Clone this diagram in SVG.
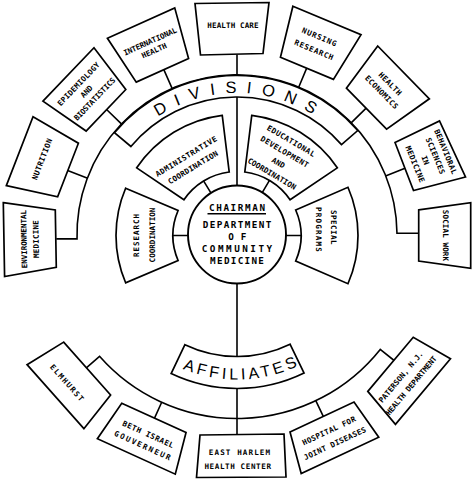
<svg xmlns="http://www.w3.org/2000/svg" width="474" height="482" viewBox="0 0 474 482">
<style>
.box{fill:#fff;stroke:#000;stroke-width:1.7;stroke-linejoin:miter}
.ln{fill:none;stroke:#000;stroke-width:1.6}
.t{font-family:"DejaVu Sans Mono","Liberation Mono",monospace;font-weight:bold;font-size:7.6px;text-anchor:middle;fill:#000}
.c{font-family:"DejaVu Sans Mono","Liberation Mono",monospace;font-weight:bold;font-size:9.3px;text-anchor:middle;fill:#000}
.big{font-family:"Liberation Sans",Arial,sans-serif;fill:#000}
</style>
<defs>
<path id="divArc" d="M113.59,164.25 A142.5,142.5 0 0 1 360.41,164.25"/>
<path id="affArc" d="M154.4,353.46 A144,144 0 0 0 319.6,353.46"/>
</defs>
<rect width="474" height="482" fill="#fff"/>

<g id="connectors">
<path class="ln" d="M237,54.5 V435"/>
<path class="ln" d="M56.3,238.85 H77.04 A160,160 0 1 1 396.98,233.27 H418.7"/>
<path class="ln" d="M87.63,178.16 L65.69,169.74 M121.91,124.35 L105,108.03 M172.43,89.11 L162.95,67.6 M298.49,87.79 L307.52,66.09 M350.92,123.16 L367.66,106.66 M385.56,176.08 L405,168.3"/>
<path class="ln" d="M188.5,235.5 H173 M285.5,235.5 H301 M211.66,194.15 L203.56,180.93 M261.62,193.71 L269.48,180.36"/>
<path class="ln" d="M83.74,370.14 L99.52,356.28 A183,183 0 0 0 380.22,349.42 L396.65,362.5"/>
<path class="ln" d="M161.69,402.29 L153.05,421.43 M315.78,400.67 L324.82,419.63"/>
</g>

<g id="divisions">
<path class="box" d="M114.43,132.65 A160,160 0 0 1 357.75,130.53 L341.53,144.64 A138.5,138.5 0 0 0 130.9,146.47 Z"/>
<text class="big" font-size="16.5" letter-spacing="9.95"><textPath href="#divArc" startOffset="51%" text-anchor="middle">DIVISIONS</textPath></text>
</g>

<g id="affiliates">
<path class="box" d="M184.91,344.71 A121,121 0 0 0 290.04,344.25 L304.07,373.02 A153,153 0 0 1 171.13,373.6 Z"/>
<text class="big" font-size="16" letter-spacing="3.3"><textPath href="#affArc" startOffset="52.9%" text-anchor="middle">AFFILIATES</textPath></text>
</g>

<g id="chairman">
<circle cx="237" cy="234.5" r="49" fill="#fff" stroke="#000" stroke-width="1.9"/>
<text class="c" x="237.8" y="211.4" letter-spacing="1.6">CHAIRMAN</text>
<path class="ln" d="M207.5,213.8 H266" stroke-width="1.3"/>
<text class="c" x="237.7" y="228" letter-spacing="1.4">DEPARTMENT</text>
<text class="c" x="240.8" y="239.5" letter-spacing="7">OF</text>
<text class="c" x="238.2" y="252.4" letter-spacing="2.5">COMMUNITY</text>
<text class="c" x="237.7" y="264" letter-spacing="1.3">MEDICINE</text>
</g>

<g id="research-coordination">
<path class="box" d="M125.62,188.22 L178.09,210.49 A64,64 0 0 0 178.09,260.51 L125.62,282.78 A121,121 0 0 1 125.62,188.22 Z"/>
<g transform="translate(144.2,235) rotate(-90)">
<text class="t" y="-5.65" letter-spacing="0.9">RESEARCH</text>
<text class="t" y="11.15">COORDINATION</text>
</g>
</g>

<g id="special-programs">
<path class="box" d="M295.69,209.98 L347.96,187.25 A121,121 0 0 1 347.96,283.75 L295.69,261.02 A64,64 0 0 0 295.69,209.98 Z"/>
<g transform="translate(326.5,229) rotate(90)">
<text class="t" x="-1.5" y="-4.75" letter-spacing="0.4">SPECIAL</text>
<text class="t" x="1" y="10.25" letter-spacing="1.2">PROGRAMS</text>
</g>
</g>

<g id="administrative-coordination">
<path class="box" d="M136.69,167.84 A121,121 0 0 1 222.25,115.4 L229.2,171.98 A64,64 0 0 0 183.94,199.71 Z"/>
<g transform="translate(189.6,161.6) rotate(-31.5)">
<text class="t" y="-3.6" letter-spacing="0.5">ADMINISTRATIVE</text>
<text class="t" y="9.4" letter-spacing="0.2">COORDINATION</text>
</g>
</g>

<g id="educational-development">
<path class="box" d="M251.75,115.4 A121,121 0 0 1 337.31,167.84 L290.06,199.71 A64,64 0 0 0 244.8,171.98 Z"/>
<g transform="translate(281.5,157.5) rotate(30.5)">
<text class="t" y="-16.5" letter-spacing="0.4">EDUCATIONAL</text>
<text class="t" y="-3.8" letter-spacing="0.4">DEVELOPMENT</text>
<text class="t" y="8.9">AND</text>
<text class="t" y="21.6">COORDINATION</text>
</g>
</g>

<g id="environmental-medicine">
<polygon class="box" points="3.3,202.66 55.29,209.96 56.29,267.36 4.59,276.48"/>
<g transform="translate(29.9,239.1) rotate(-91)">
<text class="t" y="-3.25" letter-spacing="-0.1">ENVIRONMENTAL</text>
<text class="t" y="8.75" letter-spacing="0.2">MEDICINE</text>
</g>
</g>

<g id="nutrition">
<polygon class="box" points="6.33,185.63 33.03,116.79 78.41,143.2 57.64,196.72"/>
<g transform="translate(42,159) rotate(-68.8)">
<text class="t" y="2.75" letter-spacing="0.3">NUTRITION</text>
</g>
</g>

<g id="epidemiology">
<polygon class="box" points="42.97,101.15 93.99,47.77 125.8,89.53 86.14,131.04"/>
<g transform="translate(86.5,91.5) rotate(-46.3)">
<text class="t" y="-8.25" letter-spacing="0.2">EPIDEMIOLOGY</text>
<text class="t" y="2.75">AND</text>
<text class="t" y="13.75" letter-spacing="-0.3">BIOSTATISTICS</text>
</g>
</g>

<g id="international-health">
<polygon class="box" points="107.43,38.25 174.73,7.86 188.58,58.5 136.25,82.13"/>
<g transform="translate(152,46) rotate(-24.3)">
<text class="t" y="-2.25" letter-spacing="-0.15">INTERNATIONAL</text>
<text class="t" y="7.75" letter-spacing="-0.15">HEALTH</text>
</g>
</g>

<g id="health-care">
<polygon class="box" points="195,3.5 269,2.5 263,53.5 200.5,55"/>
<text class="t" x="233" y="27.75" letter-spacing="0.1">HEALTH CARE</text>
</g>

<g id="nursing-research">
<polygon class="box" points="292.89,6.21 361.01,34.71 333.42,79.38 280.46,57.22"/>
<g transform="translate(317,43.5) rotate(22.7)">
<text class="t" y="-4.25" letter-spacing="0.8">NURSING</text>
<text class="t" y="9.75" letter-spacing="0.7">RESEARCH</text>
</g>
</g>

<g id="health-economics">
<polygon class="box" points="377.71,46.03 429.37,98.79 386.58,129.2 346.41,88.18"/>
<g transform="translate(386,88) rotate(45.6)">
<text class="t" y="-3.25" letter-spacing="0.3">HEALTH</text>
<text class="t" y="8.75" letter-spacing="0.3">ECONOMICS</text>
</g>
</g>

<g id="behavioral-sciences">
<polygon class="box" points="395,142.5 439.5,121 465.5,177 413.5,190.5"/>
<g transform="translate(430.5,158) rotate(67.6)">
<text class="t" y="-13.75" letter-spacing="0.2">BEHAVIORAL</text>
<text class="t" y="-2.75" letter-spacing="0.3">SCIENCES</text>
<text class="t" y="8.25">IN</text>
<text class="t" y="19.25" letter-spacing="0.3">MEDICINE</text>
</g>
</g>

<g id="social-work">
<polygon class="box" points="418.71,209.96 470.7,202.66 470.7,268.34 418.71,261.04"/>
<g transform="translate(446,235.5) rotate(90)">
<text class="t" y="2.75" letter-spacing="0.1">SOCIAL WORK</text>
</g>
</g>

<g id="elmhurst">
<polygon class="box" points="63.67,342.13 27.05,364.66 83.89,428.68 110.6,394.98"/>
<g transform="translate(67.5,383.3) rotate(48.4)">
<text class="t" y="2.75" letter-spacing="1.4">ELMHURST</text>
</g>
</g>

<g id="beth-israel">
<polygon class="box" points="121.74,403.21 186.05,432.52 175.28,474.15 97.38,438.65"/>
<g transform="translate(145.8,440) rotate(24.5)">
<text class="t" y="-3.5" letter-spacing="0.5">BETH ISRAEL</text>
<text class="t" y="9" letter-spacing="1.7">GOUVERNEUR</text>
</g>
</g>

<g id="east-harlem">
<polygon class="box" points="200,435 284,434 286,477 196.5,477.5"/>
<text class="t" x="240" y="455" letter-spacing="1.1">EAST HARLEM</text>
<text class="t" x="238" y="468.5" letter-spacing="0.6">HEALTH CENTER</text>
</g>

<g id="hospital-joint-diseases">
<polygon class="box" points="290.01,431.97 354.01,401.99 378.74,437.17 301.21,473.49"/>
<g transform="translate(332,437) rotate(-25.1)">
<text class="t" y="-4.25" letter-spacing="0.3">HOSPITAL FOR</text>
<text class="t" y="9.75" letter-spacing="0.3">JOINT DISEASES</text>
</g>
</g>

<g id="paterson">
<polygon class="box" points="367.81,391.39 413.24,337.25 450.48,358.75 395.45,424.33"/>
<g transform="translate(406,381.2) rotate(-50)">
<text class="t" y="-4">PATERSON, N.J.</text>
<text class="t" y="9.5" letter-spacing="-0.2">HEALTH DEPARTMENT</text>
</g>
</g>
</svg>
